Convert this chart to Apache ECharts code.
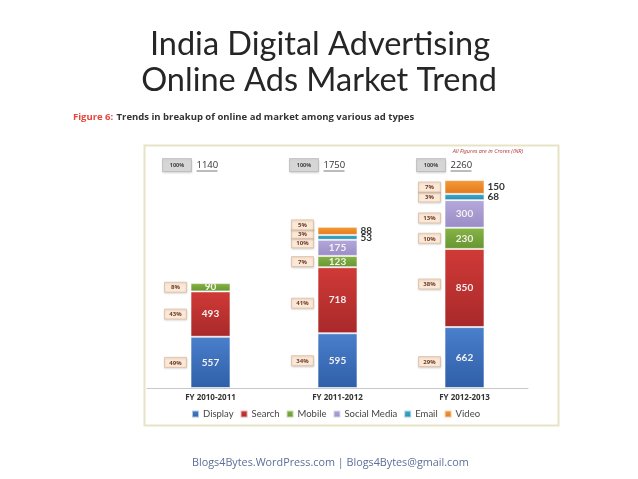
<!DOCTYPE html>
<html>
<head>
<meta charset="utf-8">
<script src="https://cdn.jsdelivr.net/npm/echarts@6/dist/echarts.min.js"></script>
<style>
html, body { margin: 0; padding: 0; background: #fff; }
#main { width: 638px; height: 479px; }
</style>
</head>
<body>
<div id="main"></div>
<script>
// data (Rs. crores)
var categories = ['FY 2010-2011', 'FY 2011-2012', 'FY 2012-2013'];
var display = [557, 595, 662];
var search = [493, 718, 850];
var mobile = [90, 123, 230];
var socialMedia = [null, 175, 300];
var email = [null, 53, 68];
var video = [null, 88, 150];
var totals = [1140, 1750, 2260];

var pctDisplay = ['49%', '34%', '29%'];
var pctSearch = ['43%', '41%', '38%'];
var pctMobile = ['8%', '7%', '10%'];
var pctSocial = [null, '10%', '13%'];
var pctEmail = [null, '3%', '3%'];
var pctVideo = [null, '5%', '7%'];

var seriesNames = ['Display', 'Search', 'Mobile', 'Social Media', 'Email', 'Video'];
var seriesValues = [display, search, mobile, socialMedia, email, video];
var seriesPct = [pctDisplay, pctSearch, pctMobile, pctSocial, pctEmail, pctVideo];
var colors = [
    ['#4a7fcc', '#2f5fa8'],
    ['#d03a37', '#a8292a'],
    ['#86b444', '#679532'],
    ['#b4a8da', '#9a8cc6'],
    ['#3fb0d0', '#2688ad'],
    ['#f59a3a', '#e07a1c']
];
// vertical nudges (px) for the crowded percentage boxes
var pctNudge = {'1-5': -6, '1-4': -4, '1-3': -5, '1-1': 3, '2-3': 4, '2-1': -4, '2-0': 4};

var myChart = echarts.init(document.getElementById('main'));

var barSeries = seriesNames.map(function (name, s) {
    var small = s >= 4;
    return {
        name: name,
        type: 'bar',
        stack: 'total',
        barWidth: 40,
        data: seriesValues[s],
        itemStyle: {
            color: new echarts.graphic.LinearGradient(0, 0, 0, 1, [
                {offset: 0, color: colors[s][0]},
                {offset: 1, color: colors[s][1]}
            ]),
            borderColor: 'rgba(255,255,255,0.6)',
            borderWidth: 1
        },
        label: {
            show: true,
            position: small ? 'right' : 'inside',
            offset: small ? [-2, 0] : [0, 0],
            color: small ? '#333' : '#f4f0f0',
            fontSize: 10,
            fontWeight: 'bold',
            fontFamily: 'Lato'
        }
    };
});

// percentage boxes left of each segment
var pctData = [];
var pctText = [];
for (var c = 0; c < categories.length; c++) {
    var base = 0;
    for (var s = 0; s < seriesValues.length; s++) {
        var v = seriesValues[s][c];
        if (v == null) continue;
        pctData.push([c, base + v / 2, s]);
        pctText.push(seriesPct[s][c]);
        base += v;
    }
}

var pctSeries = {
    type: 'custom',
    name: 'pct',
    silent: true,
    clip: false,
    encode: {x: 0, y: 1},
    data: pctData,
    renderItem: function (params, api) {
        var c = api.value(0), s = api.value(2);
        var p = api.coord([c, api.value(1)]);
        var x = p[0] - 35;
        var y = p[1] + (pctNudge[c + '-' + s] || 0);
        return {
            type: 'group',
            children: [
                {type: 'rect', shape: {x: x - 11, y: y - 5, width: 22, height: 10},
                    style: {fill: '#fbe8d6', stroke: '#e0bfa2', lineWidth: 0.8,
                        shadowBlur: 2, shadowColor: 'rgba(0,0,0,0.15)', shadowOffsetY: 1}},
                {type: 'text', style: {x: x, y: y + 0.5, text: pctText[params.dataIndex], align: 'center',
                    verticalAlign: 'middle', fontSize: 6, fontWeight: 'bold', fill: '#6b3b2b', fontFamily: 'Open Sans'}}
            ]
        };
    }
};

var totalSeries = {
    type: 'custom',
    name: 'total',
    silent: true,
    clip: false,
    encode: {x: 0, y: 1},
    data: totals.map(function (t, i) { return [i, t]; }),
    renderItem: function (params, api) {
        var c = api.value(0);
        var p = api.coord([c, 2500]);
        var x = p[0], y = p[1] + 7;
        var txt = String(api.value(1));
        return {
            type: 'group',
            children: [
                {type: 'rect', shape: {x: x - 48, y: y - 6.5, width: 29, height: 13},
                    style: {fill: '#d6d6d6', stroke: '#9a9a9a', lineWidth: 0.8, lineDash: [1, 1],
                        shadowBlur: 2, shadowColor: 'rgba(0,0,0,0.15)', shadowOffsetY: 1}},
                {type: 'text', style: {x: x - 33.5, y: y + 0.5, text: '100%', align: 'center', verticalAlign: 'middle',
                    fontSize: 5.5, fontWeight: 'bold', fill: '#444', fontFamily: 'Open Sans'}},
                {type: 'text', style: {x: x - 14, y: y, text: txt, align: 'left', verticalAlign: 'middle',
                    fontSize: 9.5, fill: '#333', fontFamily: 'Open Sans'}},
                {type: 'line', shape: {x1: x - 14, y1: y + 6, x2: x + 7, y2: y + 6},
                    style: {stroke: '#555', lineWidth: 0.8}}
            ]
        };
    }
};

var option = {
    animation: false,
    backgroundColor: '#ffffff',
    color: colors.map(function (c) { return c[0]; }),
    grid: {left: 147, right: 110, top: 158, bottom: 91},
    legend: {
        data: seriesNames,
        left: 186,
        top: 404,
        itemWidth: 7,
        itemHeight: 7,
        itemGap: 6,
        icon: 'rect',
        textStyle: {fontSize: 9.5, color: '#444', fontFamily: 'Lato', padding: [0, 0, 0, -1]}
    },
    xAxis: {
        type: 'category',
        data: categories,
        axisLine: {lineStyle: {color: '#c8c8c8'}},
        axisTick: {length: 3, lineStyle: {color: '#c8c8c8'}},
        axisLabel: {fontSize: 8, fontWeight: 'bold', color: '#333', margin: 6, fontFamily: 'Open Sans'}
    },
    yAxis: {
        type: 'value',
        min: 0,
        max: 2500,
        show: false,
        splitLine: {show: false}
    },
    graphic: [
        {type: 'rect', left: 142, top: 143, shape: {width: 414, height: 280},
            style: {fill: 'none', stroke: '#e6e3c6', lineWidth: 2}, z: -1},
        {type: 'text', x: 320, y: 45, style: {text: 'India Digital Advertising', align: 'center',
            verticalAlign: 'middle', fontSize: 32.5, fill: '#262626', fontFamily: 'Lato'}},
        {type: 'text', x: 319, y: 81, style: {text: 'Online Ads Market Trend', align: 'center',
            verticalAlign: 'middle', fontSize: 32.5, fill: '#262626', fontFamily: 'Lato'}},
        {type: 'text', x: 73, y: 117, style: {
            text: '{r|Figure 6:} {b|Trends in breakup of online ad market among various ad types}',
            verticalAlign: 'middle',
            rich: {
                r: {fontSize: 9.5, fontWeight: 'bold', fill: '#e8453c', fontFamily: 'Open Sans'},
                b: {fontSize: 9.5, fontWeight: 'bold', fill: '#333', fontFamily: 'Open Sans'}
            }}},
        {type: 'text', x: 523, y: 151, style: {text: 'All Figures are in Crores (INR)', align: 'right',
            verticalAlign: 'middle', fontSize: 5.5, fontStyle: 'italic', fill: '#b03535', fontFamily: 'Open Sans'}},
        {type: 'text', x: 192, y: 463, style: {text: 'Blogs4Bytes.WordPress.com | Blogs4Bytes@gmail.com',
            verticalAlign: 'middle', fontSize: 10.8, fill: '#5d6f98', fontFamily: 'Open Sans'}}
    ],
    series: barSeries.concat([pctSeries, totalSeries])
};

myChart.setOption(option);
</script>
</body>
</html>
